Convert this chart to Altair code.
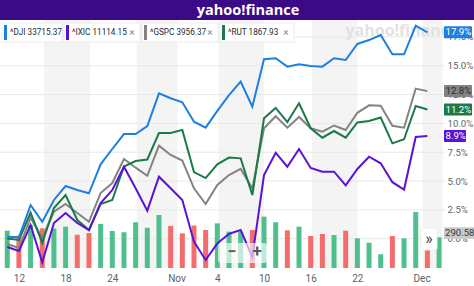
import altair as alt
import pandas as pd

# ---------------- data ----------------
dates = ["2022-10-11", "2022-10-12", "2022-10-13", "2022-10-14", "2022-10-17", "2022-10-18",
         "2022-10-19", "2022-10-20", "2022-10-21", "2022-10-24", "2022-10-25", "2022-10-26",
         "2022-10-27", "2022-10-28", "2022-10-31", "2022-11-01", "2022-11-02", "2022-11-03",
         "2022-11-04", "2022-11-07", "2022-11-08", "2022-11-09", "2022-11-10", "2022-11-11",
         "2022-11-14", "2022-11-15", "2022-11-16", "2022-11-17", "2022-11-18", "2022-11-21",
         "2022-11-22", "2022-11-23", "2022-11-25", "2022-11-28", "2022-11-29", "2022-11-30",
         "2022-12-01", "2022-12-02"]

dji = [0.17, 0.12, 2.92, 1.47, 3.36, 4.57, 4.22, 3.94, 6.45, 7.78, 9.08, 9.08, 9.77, 12.61,
       12.18, 11.83, 10.15, 9.63, 11.08, 12.46, 13.62, 11.45, 15.56, 15.65, 14.92, 15.12, 14.98,
       14.92, 15.65, 15.50, 16.89, 17.23, 17.67, 15.99, 15.99, 18.47, 17.90]
ixic = [-0.72, -1.07, 1.19, -2.05, 1.36, 2.23, 1.36, 0.75, 3.10, 4.22, 6.24, 4.37, 2.43, 5.38,
        4.37, 3.36, -0.26, -1.85, -0.40, 0.42, 0.75, -1.60, 5.52, 7.46, 6.24, 7.78, 6.13, 5.81,
        5.81, 4.63, 6.05, 7.11, 6.54, 4.90, 4.26, 8.82, 8.90]
gspc = [-0.46, -0.81, 1.82, 0.06, 2.34, 3.01, 2.23, 1.47, 3.96, 4.83, 6.91, 6.16, 5.46, 8.07,
        7.26, 6.78, 4.37, 3.01, 4.66, 5.52, 6.05, 4.37, 9.58, 10.62, 9.63, 10.56, 9.58, 9.28,
        9.82, 9.43, 10.92, 11.57, 11.53, 9.79, 9.63, 13.02, 12.80]
rut = [0.02, -0.11, 2.25, -0.37, 2.66, 3.79, 1.62, 0.75, 3.01, 3.36, 6.26, 6.74, 6.87, 9.17,
       9.17, 9.44, 5.78, 5.26, 6.45, 7.04, 6.97, 3.79, 10.44, 11.34, 10.12, 11.74, 9.58, 8.76,
       9.34, 8.76, 10.08, 10.21, 10.51, 8.27, 8.62, 11.51, 11.20]

volume = [353, 306, 407, 376, 374, 391, 315, 331, 417, 350, 338, 433, 381, 502, 398, 328, 402,
          360, 423, 344, 344, 360, 486, 433, 357, 391, 303, 322, 312, 353, 281, 239, 130, 303,
          281, 530, 344, 290.58]
vol_dir = ["up", "down", "up", "down", "up", "up", "down", "down", "up", "up", "up", "up", "up",
           "up", "down", "down", "down", "down", "up", "up", "up", "down", "up", "up", "down",
           "up", "down", "down", "up", "down", "up", "up", "up", "down", "up", "up", "down", "up"]

series_names = ["^GSPC", "^RUT", "^DJI", "^IXIC"]          # drawing order
series_vals = [gspc, rut, dji, ixic]
series_colors = ["#838383", "#1a7a48", "#1d80e0", "#5a12d6"]
end_labels = ["12.8%", "11.2%", "17.9%", "8.9%"]
end_text_colors = ["#2a2a2a", "#ffffff", "#ffffff", "#ffffff"]
end_box_widths = [28, 28, 28, 22]

legend_names = ["^DJI 33715.37", "^IXIC 11114.15", "^GSPC 3956.37", "^RUT 1867.93"]
legend_colors = ["#1d80e0", "#5a12d6", "#838383", "#1a7a48"]
legend_close = [False, True, True, True]

tick_pos = [1, 5, 9, 14.5, 18, 22, 26, 30, 35.5]
tick_labels = ["12", "18", "24", "Nov", "4", "10", "16", "22", "Dec"]
grid_vals = [0, 2.5, 5, 7.5, 10, 12.5, 15, 17.5]
band_start = [3.15, 11.1, 18.1, 26.1, 35.6]
band_end = [7.1, 14.6, 22.0, 30.0, 37.3]

# ---------------- layout ----------------
W, H = 445, 268
FONT = "Roboto"
Y_LO, Y_HI = -2.541, 20.703
VOL_MAX = 2537.0   # volume that would fill the whole plot height
xs = alt.Scale(domain=[-0.193, 37.08], nice=False, zero=False)
ys = alt.Scale(domain=[Y_LO, Y_HI], nice=False, zero=False)
vol_expr = f"{Y_LO} + datum.v * {(Y_HI - Y_LO) / VOL_MAX}"

one = pd.DataFrame({"k": [0]})


def rect(x0, x1, y0, y1, fill, **kw):
    return alt.Chart(one).mark_rect(fill=fill, **kw).encode(
        x=alt.value(x0), x2=alt.value(x1), y=alt.value(y0), y2=alt.value(y1))


def txt(x, y, s, **kw):
    return alt.Chart(one).mark_text(text=s, **kw).encode(x=alt.value(x), y=alt.value(y))


label_expr = "".join(f"datum.value == {p} ? '{l}' : " for p, l in zip(tick_pos, tick_labels)) + "''"
x_axis = alt.Axis(values=tick_pos, labelExpr=label_expr, grid=False, ticks=False, domain=False,
                  labelFontSize=10, labelColor="#5b636a", labelPadding=5, labelFont=FONT,
                  title=None)
y_axis = alt.Axis(orient="right", values=grid_vals, labelExpr="format(datum.value, '.1f') + '%'",
                  grid=False, ticks=False, domain=False, labelFontSize=9.6,
                  labelColor="#5b636a", labelPadding=2, labelFont=FONT, title=None)


def X(f):
    return alt.X(f, scale=xs, axis=x_axis)


def Y(f):
    return alt.Y(f, scale=ys, axis=y_axis)


layers = []
# alternating weekly bands
bands_df = pd.DataFrame({"b0": band_start, "b1": band_end})
layers.append(alt.Chart(bands_df).mark_rect(fill="#f4f4f4").encode(
    x=X("b0:Q"), x2="b1:Q", y=alt.value(0), y2=alt.value(H)))
# horizontal grid
grid_df = pd.DataFrame({"g": grid_vals})
layers.append(alt.Chart(grid_df).mark_rule(color="#e8e8e8", strokeWidth=1).encode(
    y=Y("g:Q"), x=alt.value(0), x2=alt.value(W)))
# watermark
layers.append(txt(402, 31, "yahoo!finance", fontSize=16, fontWeight="bold", color="#e2e2e2",
                  font="Open Sans"))

# volume bars
vol_df = pd.DataFrame({"i": list(range(len(dates))), "date": dates, "v": volume, "d": vol_dir})
layers.append(alt.Chart(vol_df).transform_calculate(pv=vol_expr, base=f"{Y_LO}").mark_bar(size=5).encode(
    x=X("i:Q"), y=Y("pv:Q"), y2="base:Q",
    color=alt.Color("d:N", scale=alt.Scale(domain=["up", "down"], range=["#4fc08d", "#f36d6d"]),
                    legend=None)))

# lines
for name, vals, col in zip(series_names, series_vals, series_colors):
    d = pd.DataFrame({"i": list(range(len(vals))), "date": dates[:len(vals)], "p": vals})
    layers.append(alt.Chart(d).mark_line(strokeWidth=2, color=col).encode(
        x=X("i:Q"), y=Y("p:Q")))

# end-of-line labels
for vals, col, lab, tc, bw in zip(series_vals, series_colors, end_labels, end_text_colors, end_box_widths):
    d = pd.DataFrame({"p": [vals[-1]], "t": [lab]})
    layers.append(alt.Chart(d).mark_rect(fill=col, yOffset=-6, y2Offset=6, cornerRadius=1).encode(
        y=Y("p:Q"), y2="p:Q", x=alt.value(444), x2=alt.value(444 + bw)))
    layers.append(alt.Chart(d).mark_text(fontSize=9.6, color=tc, font=FONT, align="left").encode(
        y=Y("p:Q"), x=alt.value(445.5), text="t:N"))

# last volume label
last_vol = pd.DataFrame({"v": [volume[-1]], "t": [f"{volume[-1]:.2f}"]})
layers.append(alt.Chart(last_vol).transform_calculate(pv=vol_expr).mark_rect(
    fill="#c9c9c9", yOffset=-10, y2Offset=1.5).encode(
    y=Y("pv:Q"), y2="pv:Q", x=alt.value(444), x2=alt.value(474)))
layers.append(alt.Chart(last_vol).transform_calculate(pv=vol_expr).mark_text(
    fontSize=9.6, color="#3a3a3a", font=FONT, align="left", yOffset=-4).encode(
    y=Y("pv:Q"), x=alt.value(445), text="t:N"))

# header
layers.append(rect(0, 474, 0, 20, "#3b0a86"))
layers.append(txt(248, 10.5, "yahoo!finance", fontSize=14.5, fontWeight="bold", color="#ffffff",
                  font="Open Sans"))

# legend chips
chip_x0 = [2, 64, 142, 220]
chip_x1 = [62, 140, 218, 294]
for nm, col, cl, a, b in zip(legend_names, legend_colors, legend_close, chip_x0, chip_x1):
    layers.append(rect(a, b, 23, 42, "#ffffff", stroke="#ececec", strokeWidth=1))
    layers.append(rect(a + 2, a + 5, 25, 40, col))
    layers.append(txt(a + 8, 33, nm, fontSize=8.2, color="#232a31", align="left", font=FONT))
    if cl:
        layers.append(txt(b - 8, 33, "×", fontSize=10, color="#8a8a8a", font=FONT))

# zoom controls
layers.append(rect(218, 267, 243, 263, "#ffffff", opacity=0.65, cornerRadius=3))
layers.append(txt(232, 252, "−", fontSize=16, color="#5a5a5a", fontWeight="bold", font=FONT))
layers.append(txt(257, 252, "+", fontSize=17, color="#5a5a5a", fontWeight="bold", font=FONT))
layers.append(rect(421, 437, 228, 250, "#ffffff", stroke="#eeeeee", cornerRadius=2))
layers.append(txt(429, 239, "»", fontSize=16, color="#444444", font=FONT))

chart = alt.layer(*layers).properties(
    width=W, height=H, padding={"left": 0, "top": 0, "right": 29, "bottom": 18},
    autosize=alt.AutoSizeParams(type="none"), background="#ffffff"
).configure_view(stroke=None)

chart.save("out.html", embed_options={"renderer": "svg", "actions": False})
